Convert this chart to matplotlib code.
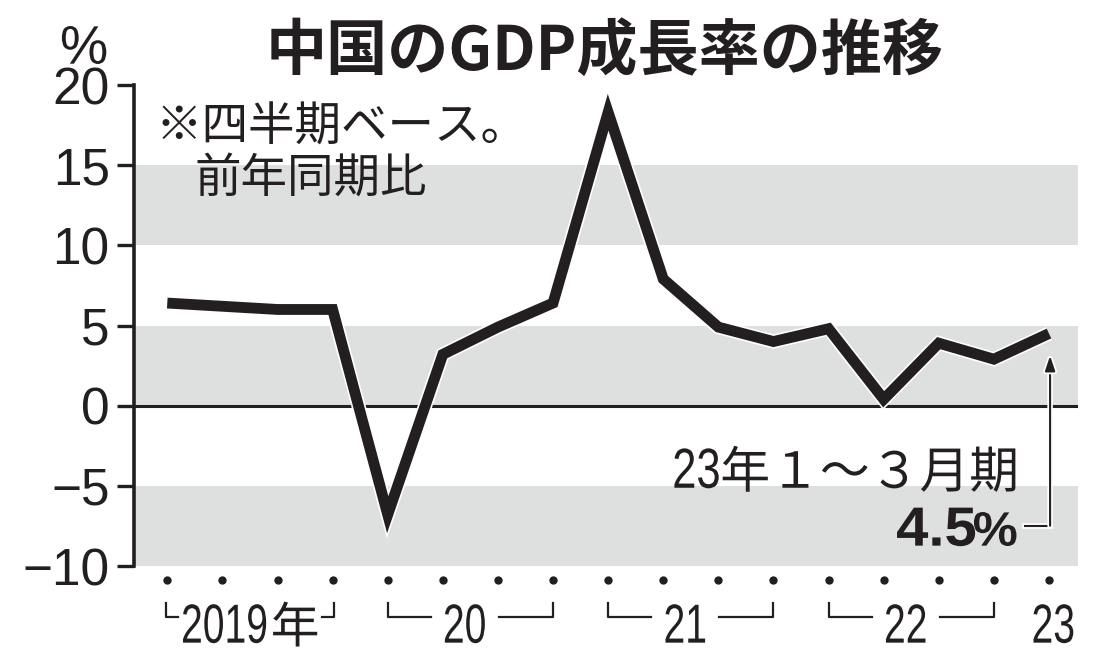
import matplotlib
matplotlib.use("Agg")
import matplotlib.pyplot as plt
import matplotlib.patheffects as pe
from matplotlib.textpath import TextPath
from matplotlib.patches import PathPatch
from matplotlib.font_manager import FontProperties
from matplotlib.transforms import Affine2D, ScaledTranslation
import numpy as np

# data: China GDP growth, quarterly, year on year (%)
quarters = ["2019Q1", "2019Q2", "2019Q3", "2019Q4",
            "2020Q1", "2020Q2", "2020Q3", "2020Q4",
            "2021Q1", "2021Q2", "2021Q3", "2021Q4",
            "2022Q1", "2022Q2", "2022Q3", "2022Q4",
            "2023Q1"]
growth = [6.4, 6.2, 6.0, 6.0,
          -6.8, 3.2, 4.9, 6.4,
          18.3, 7.9, 4.9, 4.0,
          4.8, 0.4, 3.9, 2.9,
          4.5]
yticks = [-10, -5, 0, 5, 10, 15, 20]
ytick_labels = ["\u221210", "\u22125", "0", "5", "10", "15", "20"]
bands = [(-10, -5), (0, 5), (10, 15)]
year_labels = ["2019", "20", "21", "22", "23"]

INK = "#231f20"
GRAY = "#dedfdf"
SANS = "Liberation Sans"
JP = ["Noto Sans CJK JP", "DejaVu Sans"]

fig = plt.figure(figsize=(11.02, 6.61), dpi=100)
ax = fig.add_axes([0.1216, 0.1437, 0.8566, 0.7277])
ax.set_xlim(-0.604, 16.526)
ax.set_ylim(-10, 20)


def path_text(s, x, y, height_px, squeeze=1.0, ha="center", family=SANS,
              weight="normal", ref="0", dx_px=0):
    # text drawn as a path so it can be condensed like the newspaper font
    fp = FontProperties(family=family, weight=weight)
    tp = TextPath((0, 0), s, size=1, prop=fp)
    k = height_px / TextPath((0, 0), ref, size=1, prop=fp).get_extents().height
    ext = tp.get_extents()
    if ha == "left":
        a = ext.x0
    elif ha == "right":
        a = ext.x1
    else:
        a = (ext.x0 + ext.x1) / 2
    tr = (Affine2D().translate(-a, 0).scale(k * squeeze, k).translate(dx_px, 0)
          + ScaledTranslation(x, y, ax.transData))
    ax.add_artist(PathPatch(tp, transform=tr, facecolor=INK, edgecolor="none",
                            clip_on=False))
    return ext.width * k * squeeze


x = np.arange(len(growth))

for lo, hi in bands:
    ax.axhspan(lo, hi, color=GRAY, lw=0, zorder=0)
ax.axhline(0, color=INK, lw=2.2, zorder=1)

ax.plot(x, growth, color=INK, lw=7.8, solid_joinstyle="miter",
        solid_capstyle="butt", zorder=3,
        path_effects=[pe.Stroke(linewidth=10.2, foreground="white"), pe.Normal()])

ax.set_yticks(yticks)
ax.set_yticklabels(ytick_labels, family=SANS, fontsize=37, color=INK)
ax.tick_params(axis="y", direction="out", length=12, width=2.4, color=INK, pad=5.5)
ax.set_xticks([])
for s in ["top", "right", "bottom"]:
    ax.spines[s].set_visible(False)
ax.spines["left"].set_linewidth(2.6)
ax.spines["left"].set_color(INK)

# quarter dots under the axis
ax.scatter(x, np.full(len(x), -10.9), s=36, color=INK, lw=0, clip_on=False, zorder=3)

# year brackets
bt, bb, base = -12.29, -13.16, -14.78
ax.plot([-0.02, -0.02, 0.2], [bt, bb, bb], color=INK, lw=1.6, clip_on=False)
ax.plot([2.8, 3.02, 3.02], [bb, bb, bt], color=INK, lw=1.6, clip_on=False)
path_text(year_labels[0], 0.285, base, 39, squeeze=0.71, ha="left")
path_text("年", 1.92, base, 45, ha="left", family=JP, ref="年")
for k, lab in enumerate(year_labels[1:4]):
    i0 = 4 * (k + 1)
    i3 = i0 + 3
    ax.plot([i0, i0, i0 + 0.78], [bt, bb, bb], color=INK, lw=1.6, clip_on=False)
    ax.plot([i3 - 0.98, i3, i3], [bb, bb, bt], color=INK, lw=1.6, clip_on=False)
    path_text(lab, (i0 + i3) / 2 - 0.1, base, 39, squeeze=0.71)
path_text(year_labels[4], 16.08, base, 39, squeeze=0.71)

# notes
ax.text(-0.22, 18.9, "※四半期ベース。", family=JP, fontsize=33.5, color=INK,
        ha="left", va="top")
ax.text(0.5, 15.7, "前年同期比", family=JP, fontsize=33.5, color=INK,
        ha="left", va="top")

# latest value callout
w = path_text("年１～３月期", 15.39, -5.12, 46, ha="right", family=JP, ref="年")
path_text("23", 15.39, -5.12, 40, squeeze=0.77, ha="right", dx_px=-w - 4)
path_text("4.5", 14.66, -8.73, 38, squeeze=1.05, ha="right", weight="bold", ref="4")
path_text("%", 15.41, -8.73, 34, squeeze=1.05, ha="right", weight="bold", ref="%")

white = [pe.Stroke(linewidth=4, foreground="white"), pe.Normal()]
ax.plot([15.57, 16.02], [-7.49, -7.49], color=INK, lw=1.5, clip_on=False,
        zorder=4, path_effects=white)
arr = ax.annotate("", xy=(16.02, 3.12), xytext=(16.02, -7.49),
                  arrowprops=dict(arrowstyle="-|>,head_length=0.9,head_width=0.3",
                                  color=INK, lw=1.5, shrinkA=0, shrinkB=0),
                  zorder=4)
arr.arrow_patch.set_path_effects(white)

# title and unit
fig.text(0.549, 0.921, "中国のGDP成長率の推移", family=JP, fontweight="bold",
         fontsize=44, color=INK, ha="center", va="center")
path_text("%", -1.51, 21.33, 38, ref="%")

fig.savefig("out.png", dpi=100)
